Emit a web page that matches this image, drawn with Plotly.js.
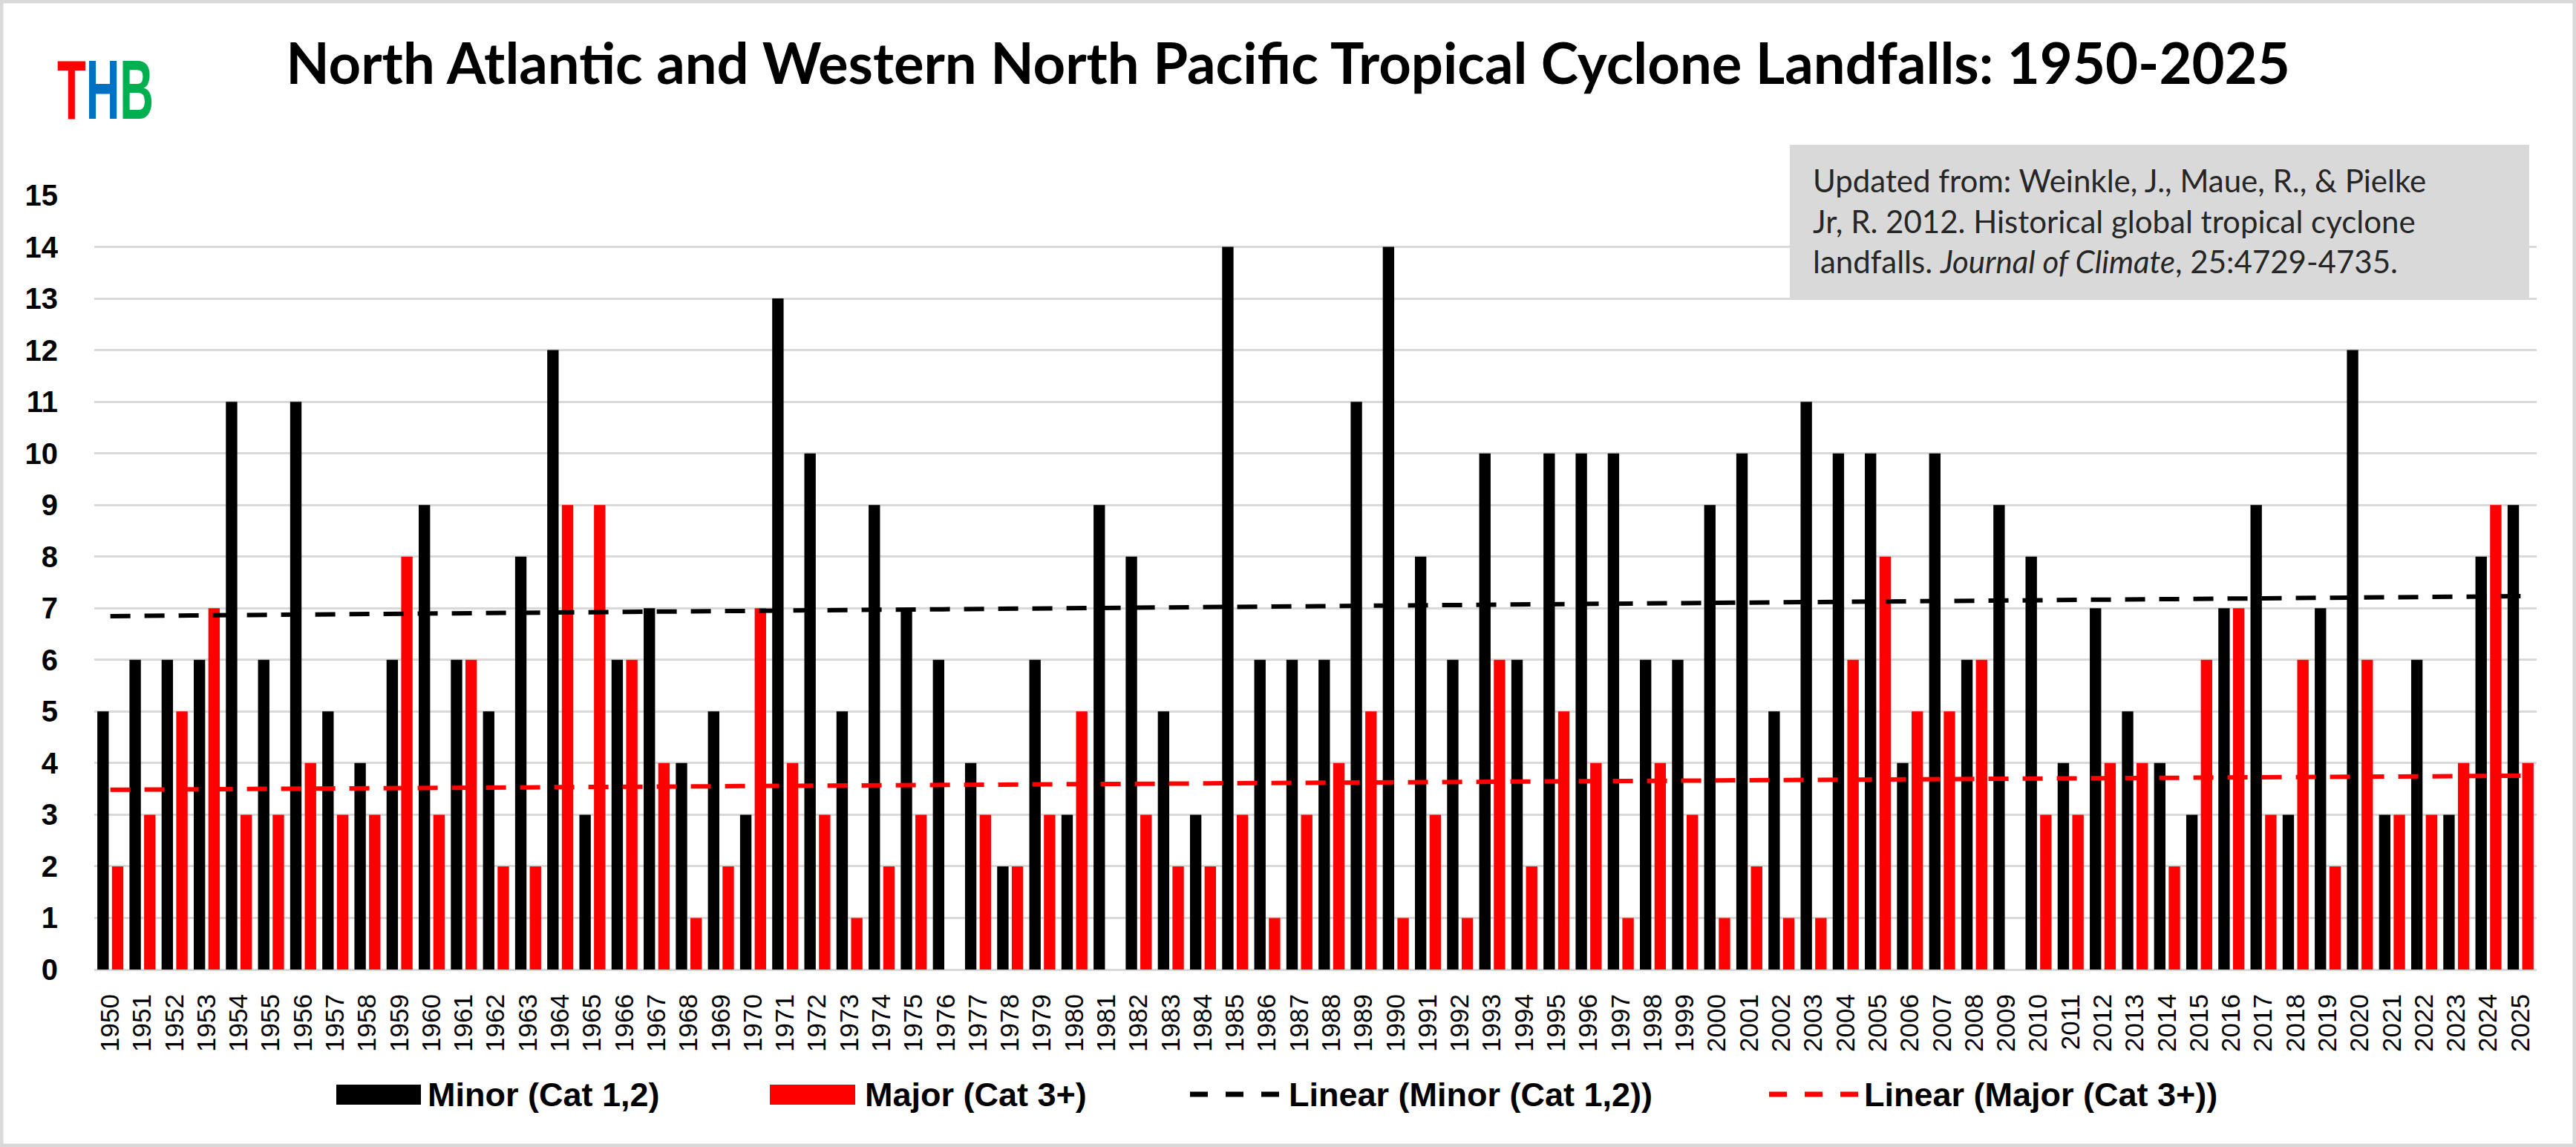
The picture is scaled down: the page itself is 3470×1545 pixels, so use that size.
<!DOCTYPE html>
<html>
<head>
<meta charset="utf-8">
<script src="https://cdn.plot.ly/plotly-3.0.1.min.js"></script>
<style>
  html, body { margin: 0; padding: 0; background: #ffffff; }
  #chart { width: 3470px; height: 1545px; }
</style>
</head>
<body>
<div id="chart"></div>
<script>
// ---------------- DATA ----------------
const years = [1950,1951,1952,1953,1954,1955,1956,1957,1958,1959,
               1960,1961,1962,1963,1964,1965,1966,1967,1968,1969,
               1970,1971,1972,1973,1974,1975,1976,1977,1978,1979,
               1980,1981,1982,1983,1984,1985,1986,1987,1988,1989,
               1990,1991,1992,1993,1994,1995,1996,1997,1998,1999,
               2000,2001,2002,2003,2004,2005,2006,2007,2008,2009,
               2010,2011,2012,2013,2014,2015,2016,2017,2018,2019,
               2020,2021,2022,2023,2024,2025];
const yearLabels = years.map(String);

const minor = [5,6,6,6,11,6,11,5,4,6,
               9,6,5,8,12,3,6,7,4,5,
               3,13,10,5,9,7,6,4,2,6,
               3,9,8,5,3,14,6,6,6,11,
               14,8,6,10,6,10,10,10,6,6,
               9,10,5,11,10,10,4,10,6,9,
               8,4,7,5,4,3,7,9,3,7,
               12,3,6,3,8,9];
const major = [2,3,5,7,3,3,4,3,3,8,
               3,6,2,2,9,9,6,4,1,2,
               7,4,3,1,2,3,0,3,2,3,
               5,0,3,2,2,3,1,3,4,5,
               1,3,1,6,2,5,4,1,4,3,
               1,2,1,1,6,8,5,5,6,0,
               3,3,4,4,2,6,7,3,6,2,
               6,3,3,4,9,4];
const yTicks = [0,1,2,3,4,5,6,7,8,9,10,11,12,13,14,15];

const seriesNames = ["Minor (Cat 1,2)", "Major (Cat 3+)",
                     "Linear (Minor (Cat 1,2))", "Linear (Major (Cat 3+))"];
const titleText = "North Atlantic and Western North Pacific Tropical Cyclone Landfalls: 1950-2025";
const noteText = "Updated from: Weinkle, J., Maue, R., &amp; Pielke<br>Jr, R. 2012. Historical global tropical cyclone<br>landfalls. <i>Journal of Climate</i>, 25:4729-4735.";

// Least-squares linear trend (as an Excel "Linear" trendline)
function linearFit(vals) {
  const n = vals.length;
  let sx = 0, sy = 0, sxx = 0, sxy = 0;
  for (let i = 0; i < n; i++) { sx += i; sy += vals[i]; sxx += i * i; sxy += i * vals[i]; }
  const b = (n * sxy - sx * sy) / (n * sxx - sx * sx);
  const a = (sy - b * sx) / n;
  return vals.map((_, i) => a + b * i);
}
const minorTrend = linearFit(minor);
const majorTrend = linearFit(major);

// ---------------- LAYOUT HELPERS ----------------
const W = 3470, H = 1545;
const M = { l: 127, r: 53, t: 263, b: 239 };
const PW = W - M.l - M.r, PH = H - M.t - M.b;
const px = X => (X - M.l) / PW;          // pixel -> paper x
const py = Y => (H - M.b - Y) / PH;      // pixel -> paper y

const BLACK = "#000000", RED = "#ff0000", GRID = "#d9d9d9";

const traces = [
  { type: "bar", x: years, y: minor, name: seriesNames[0],
    marker: { color: BLACK, line: { width: 0 } }, showlegend: false },
  { type: "bar", x: years, y: major, name: seriesNames[1],
    marker: { color: RED, line: { width: 0 } }, showlegend: false },
  { type: "scatter", mode: "lines", x: years, y: minorTrend, name: seriesNames[2],
    line: { color: BLACK, width: 6, dash: "27px,19px" }, showlegend: false },
  { type: "scatter", mode: "lines", x: years, y: majorTrend, name: seriesNames[3],
    line: { color: RED, width: 6, dash: "27px,19px" }, showlegend: false }
];

const legendY = py(1474);
const shapes = [
  // outer border
  { type: "rect", xref: "paper", yref: "paper",
    x0: px(0), x1: px(W), y0: py(H), y1: py(0),
    line: { color: GRID, width: 9 }, fillcolor: "rgba(0,0,0,0)", layer: "above" },
  // citation box
  { type: "rect", xref: "paper", yref: "paper",
    x0: px(2411), x1: px(3407), y0: py(401), y1: py(195),
    line: { width: 0 }, fillcolor: "#d9d9d9", layer: "above" },
  // legend symbols
  { type: "rect", xref: "paper", yref: "paper",
    x0: px(453), x1: px(567), y0: py(1488), y1: py(1461),
    line: { width: 0 }, fillcolor: BLACK },
  { type: "rect", xref: "paper", yref: "paper",
    x0: px(1037), x1: px(1152), y0: py(1488), y1: py(1461),
    line: { width: 0 }, fillcolor: RED },
  { type: "line", xref: "paper", yref: "paper",
    x0: px(1603), x1: px(1723), y0: legendY, y1: legendY,
    line: { color: BLACK, width: 7, dash: "24px,24px" } },
  { type: "line", xref: "paper", yref: "paper",
    x0: px(2383), x1: px(2503), y0: legendY, y1: legendY,
    line: { color: RED, width: 7, dash: "24px,24px" } }
];

const legendFont = { family: "Liberation Sans, Arial, sans-serif", size: 45, color: "#000000", weight: 700 };
const annotations = [
  // logo
  { xref: "paper", yref: "paper", x: px(75), y: py(121), xanchor: "left", yanchor: "middle",
    showarrow: false,
    text: "<span style='color:#ff0000'>T</span><span style='color:#0070c0'>H</span><span style='color:#00b050'>B</span>",
    font: { family: "Liberation Sans, Arial, sans-serif", size: 114, weight: 700 } },
  // citation text
  { xref: "paper", yref: "paper", x: px(2440), y: py(298), xanchor: "left", yanchor: "middle",
    align: "left", showarrow: false, text: noteText,
    font: { family: "Lato, sans-serif", size: 42, color: "#262626" } },
  // legend labels
  { xref: "paper", yref: "paper", x: px(574), y: legendY, xanchor: "left", yanchor: "middle",
    showarrow: false, text: seriesNames[0], font: legendFont },
  { xref: "paper", yref: "paper", x: px(1163), y: legendY, xanchor: "left", yanchor: "middle",
    showarrow: false, text: seriesNames[1], font: legendFont },
  { xref: "paper", yref: "paper", x: px(1734), y: legendY, xanchor: "left", yanchor: "middle",
    showarrow: false, text: seriesNames[2], font: legendFont },
  { xref: "paper", yref: "paper", x: px(2509), y: legendY, xanchor: "left", yanchor: "middle",
    showarrow: false, text: seriesNames[3], font: legendFont }
];

const layout = {
  width: W, height: H,
  margin: M,
  paper_bgcolor: "#ffffff", plot_bgcolor: "#ffffff",
  showlegend: false,
  barmode: "group", bargap: 0.09, bargroupgap: 0.22,
  title: {
    text: titleText, xref: "container", x: 0.5, xanchor: "center",
    yref: "container", y: 1 - 86 / H, yanchor: "middle",
    font: { family: "Lato, sans-serif", size: 76, color: "#000000", weight: 700 }
  },
  xaxis: {
    range: [1949.5, 2025.5], tickmode: "array", tickvals: years, ticktext: yearLabels,
    tickangle: -90, ticks: "outside", ticklen: 18, tickcolor: "rgba(0,0,0,0)",
    tickfont: { family: "Liberation Sans, Arial, sans-serif", size: 35, color: "#000000" },
    showgrid: false, zeroline: false, showline: false, fixedrange: true
  },
  yaxis: {
    range: [0, 15], tickmode: "array", tickvals: yTicks, ticktext: yTicks.map(String),
    ticks: "outside", ticklen: 40, tickcolor: "rgba(0,0,0,0)",
    tickfont: { family: "Liberation Sans, Arial, sans-serif", size: 40, color: "#000000", weight: 700 },
    showgrid: true, gridcolor: GRID, gridwidth: 3,
    zeroline: true, zerolinecolor: GRID, zerolinewidth: 3,
    showline: false, fixedrange: true
  },
  shapes: shapes,
  annotations: annotations
};

Plotly.newPlot("chart", traces, layout, { displayModeBar: false, staticPlot: true }).then(gd => {
  // The logo in the reference is a tall condensed face: squeeze the text horizontally.
  const t = gd.querySelector(".annotation[data-index='0'] text");
  if (t) {
    const bb = t.getBBox();
    const sx = 130 / bb.width;
    const x0 = bb.x;
    t.setAttribute("transform", `translate(${x0},0) scale(${sx},1) translate(${-x0},0)`);
  }
});
</script>
</body>
</html>
